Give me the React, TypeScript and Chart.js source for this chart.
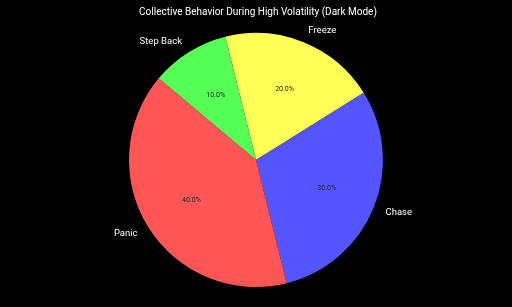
import React, { useEffect, useRef } from "react";
import { Chart, registerables } from "chart.js";

Chart.register(...registerables);

const TITLE = "Collective Behavior During High Volatility (Dark Mode)";
const labels = ["Freeze", "Chase", "Panic", "Step Back"];
const values = [20, 30, 40, 10];
const colors = ["#FFFF55", "#5555FF", "#FF5555", "#55FF55"];
const FONT = "Roboto, 'DejaVu Sans', sans-serif";

const labelPlugin = {
  id: "pieLabels",
  afterDraw(chart: any) {
    const ctx = chart.ctx;
    const meta = chart.getDatasetMeta(0);
    const total = values.reduce((a, b) => a + b, 0);
    ctx.save();
    ctx.fillStyle = "#ffffff";
    ctx.font = `10px ${FONT}`;
    ctx.textAlign = "center";
    ctx.textBaseline = "middle";
    ctx.fillText(TITLE, chart.width / 2 + 2, 12);
    meta.data.forEach((arc: any, i: number) => {
      const { x, y, startAngle, endAngle, outerRadius } = arc.getProps(
        ["x", "y", "startAngle", "endAngle", "outerRadius"],
        true
      );
      const mid = (startAngle + endAngle) / 2;
      const c = Math.cos(mid);
      const s = Math.sin(mid);
      const lx = x + c * outerRadius * 1.1;
      const ly = y + s * outerRadius * 1.1;
      ctx.fillStyle = "#ffffff";
      ctx.font = `9.5px ${FONT}`;
      ctx.textAlign = c < 0 ? "right" : "left";
      ctx.textBaseline = "middle";
      ctx.fillText(labels[i], lx, ly);
      const px = x + c * outerRadius * 0.6;
      const py = y + s * outerRadius * 0.6;
      ctx.fillStyle = "#222222";
      ctx.font = `7px ${FONT}`;
      ctx.textAlign = "center";
      ctx.fillText(((values[i] / total) * 100).toFixed(1) + "%", px, py);
    });
    ctx.restore();
  },
};

const bgPlugin = {
  id: "bg",
  beforeDraw(chart: any) {
    const ctx = chart.ctx;
    ctx.save();
    ctx.fillStyle = "#000000";
    ctx.fillRect(0, 0, chart.width, chart.height);
    ctx.restore();
  },
};

export default function App() {
  const ref = useRef<HTMLCanvasElement | null>(null);
  useEffect(() => {
    document.body.style.margin = "0";
    document.body.style.background = "#000";
    if (!ref.current) return;
    const chart = new Chart(ref.current, {
      type: "pie",
      data: {
        labels,
        datasets: [
          {
            data: values,
            backgroundColor: colors,
            borderWidth: 0,
          },
        ],
      },
      options: {
        animation: false,
        responsive: false,
        rotation: -14,
        layout: { padding: { top: 33, bottom: 20, left: 0, right: 0 } },
        plugins: {
          legend: { display: false },
          title: { display: false },
          tooltip: { enabled: false },
        },
      },
      plugins: [bgPlugin, labelPlugin],
    });
    return () => chart.destroy();
  }, []);
  return (
    <div style={{ width: 512, height: 307, background: "#000" }}>
      <canvas ref={ref} width={512} height={307} style={{ display: "block" }} />
    </div>
  );
}
